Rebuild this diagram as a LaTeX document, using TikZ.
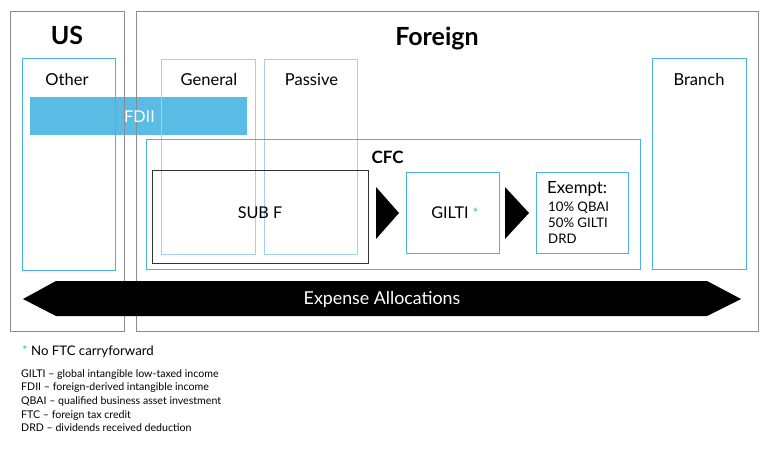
\documentclass[tikz,border=0pt]{standalone}
\usepackage{fontspec}
\setmainfont{Lato}
\usetikzlibrary{positioning}
\definecolor{boxblue}{HTML}{48B2E4}
\definecolor{paleblue}{HTML}{A2D2EA}
\definecolor{fdiiblue}{HTML}{5ABCE5}
\definecolor{outgray}{HTML}{8C8C8C}
\definecolor{starteal}{HTML}{3DC1AE}
\newcommand{\fsz}[1]{\fontsize{#1}{#1}\selectfont}
\tikzset{
 region/.style={draw=outgray, line width=1.3pt, anchor=north west, inner sep=0pt},
 basket/.style={draw=boxblue, line width=1.1pt, anchor=north west, inner sep=0pt},
 palebasket/.style={draw=paleblue, line width=1.1pt, anchor=north west, inner sep=0pt},
 heading/.style={anchor=base, inner sep=0pt, font=\fsz{25}\bfseries},
 boxlabel/.style={anchor=base, inner sep=0pt, font=\fsz{16.5}},
 biglabel/.style={anchor=base, inner sep=0pt, font=\fsz{16.2}},
 note/.style={anchor=base west, inner sep=0pt, font=\fsz{10.6}}
}
\begin{document}
\begin{tikzpicture}[x=1pt, y=-1pt]
\useasboundingbox (0,0) rectangle (768,458);
\node[fill=fdiiblue, anchor=north west, inner sep=0pt,
 minimum width=217, minimum height=38] (fdii) at (30,97) {};
\node[region, minimum width=114, minimum height=320] (us) at (10,11) {};
\node[region, minimum width=622, minimum height=320] (foreign) at (136,11) {};
\node[heading] (ustitle) at (67,44.5) {US};
\node[heading] (foreigntitle) at (437,45) {Foreign};
\node[basket, minimum width=93, minimum height=212] (other) at (22,58) {};
\node[boxlabel] (otherlabel) at (67,85.3) {Other};
\node[palebasket, minimum width=94, minimum height=195] (general) at (161,59) {};
\node[boxlabel] (generallabel) at (209,85.7) {General};
\node[palebasket, minimum width=93, minimum height=195] (passive) at (264,59) {};
\node[boxlabel] (passivelabel) at (311.5,85.7) {Passive};
\node[basket, minimum width=94, minimum height=211] (branch) at (652,58) {};
\node[boxlabel] (branchlabel) at (699,85.7) {Branch};
\node[biglabel, white] (fdiilabel) at (139.5,122.7) {FDII};
\node[basket, minimum width=494, minimum height=130] (cfc) at (146,139) {};
\node[boxlabel, font=\fsz{17}\bfseries] (cfclabel) at (387.5,163.3) {CFC};
\node[draw=black!80, line width=1.1pt, anchor=north west, inner sep=0pt,
 minimum width=216, minimum height=93] (subf) at (152,170) {};
\node[biglabel] (subflabel) at (260,218.3) {SUB F};
\node[basket, minimum width=93, minimum height=81] (gilti) at (406,172) {};
\node[biglabel] (giltilabel) at (455,218.3) {GILTI \textcolor{starteal}{\fsz{14}*}};
\node[basket, minimum width=92, minimum height=81] (exempt) at (536,172) {};
\node[boxlabel, anchor=base west, font=\fsz{16.8}] (exemptlabel) at (547,193.3) {Exempt:};
\node[boxlabel, anchor=base west, font=\fsz{13.2}] (qbai) at (548,211.7) {10\% QBAI};
\node[boxlabel, anchor=base west, font=\fsz{13.2}] (half) at (548,227.7) {50\% GILTI};
\node[boxlabel, anchor=base west, font=\fsz{13.2}] (drd) at (548,243.3) {DRD};
\fill (376,187) -- (399,213) -- (376,239) -- cycle;
\fill (505,187) -- (529,213) -- (505,239) -- cycle;
\fill (23,299) -- (56,281) -- (707,281) -- (741,299) -- (707,316) -- (56,316) -- cycle;
\node[biglabel, white, font=\fsz{17.8}] (expense) at (382,304.3) {Expense Allocations};
\node[note, font=\fsz{13.2}] (footnote) at (22,355) {\textcolor{starteal}{*} No FTC carryforward};
\foreach \abbr/\desc [count=\i] in {GILTI/global intangible low-taxed income,
 FDII/foreign-derived intangible income, QBAI/qualified business asset investment,
 FTC/foreign tax credit, DRD/dividends received deduction}
 \node[note] (legend\i) at (21,{377+13.7*(\i-1)}) {\abbr\ -- \desc};
\end{tikzpicture}
\end{document}
